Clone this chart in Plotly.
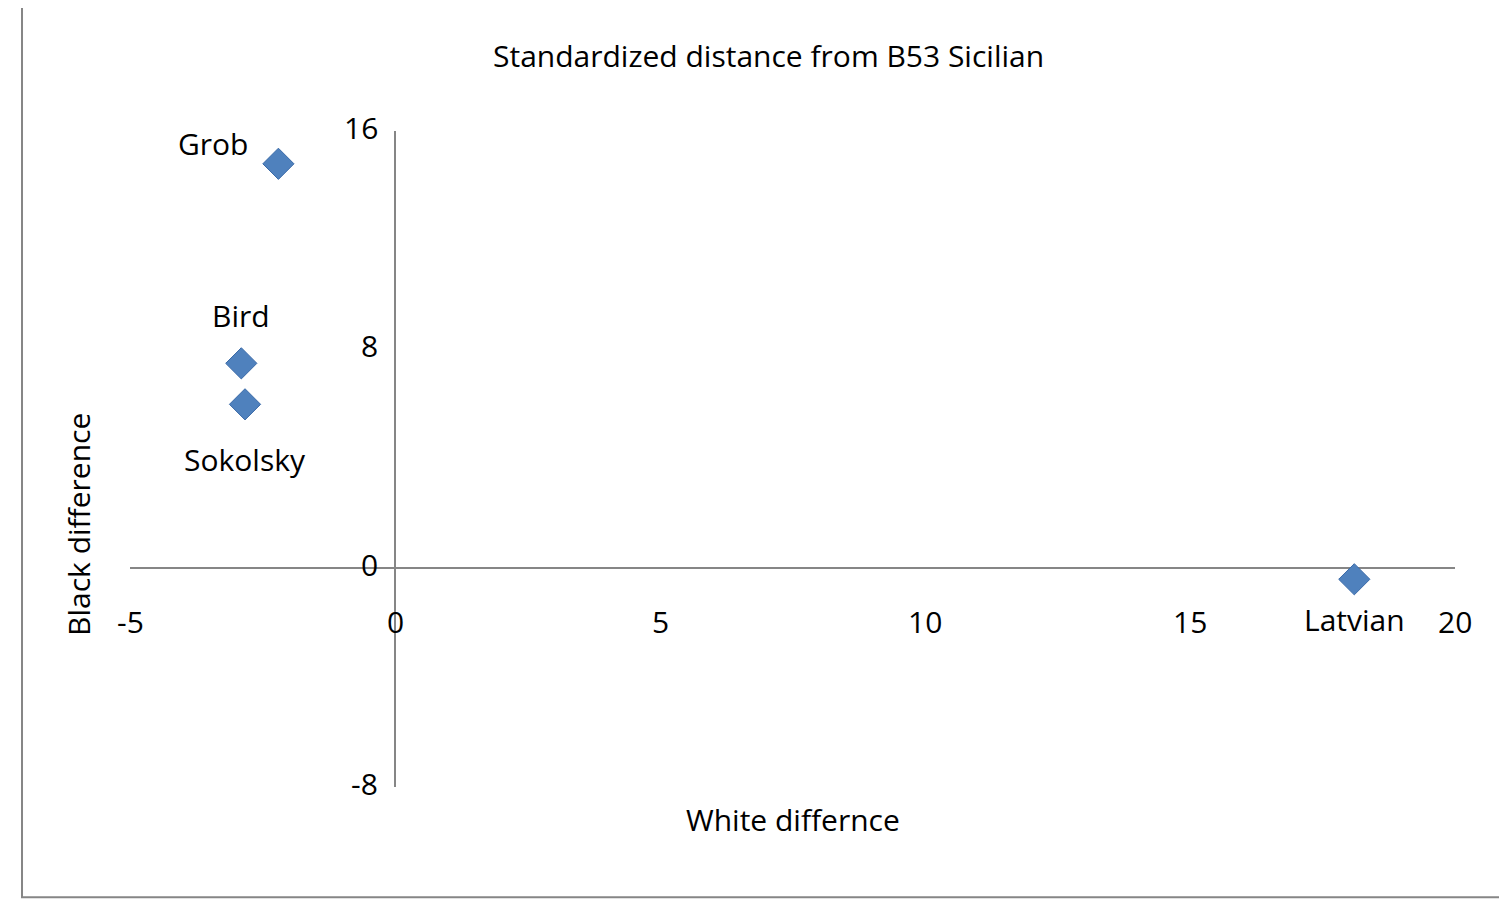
import plotly.graph_objects as go

names = ["Grob", "Bird", "Sokolsky", "Latvian"]
white_diff = [-2.2, -2.9, -2.83, 18.1]
black_diff = [14.8, 7.5, 6.0, -0.4]
label_pos = ["middle left", "top center", "bottom center", "bottom center"]
x_ticks = [-5, 0, 5, 10, 15, 20]
y_ticks = [-8, 0, 8, 16]

FONT = "Open Sans, Liberation Sans, sans-serif"
fig = go.Figure()
fig.add_trace(go.Scatter(
    x=white_diff, y=black_diff, mode="markers",
    marker=dict(symbol="diamond", size=24, color="#4F81BD", line=dict(color="#3A6AA8", width=1)),
    showlegend=False, hoverinfo="skip"))

anns = []
offs = {"middle left": (-28, 20), "top center": (0, 48), "bottom center": (0, -55)}
for n, x, y, p in zip(names, white_diff, black_diff, label_pos):
    dx, dy = offs[p]
    if n == "Latvian":
        dy = -40
    anns.append(dict(x=x, y=y, text=n, showarrow=False, xshift=dx, yshift=dy,
                     xanchor="right" if p == "middle left" else "center",
                     font=dict(size=30, family=FONT, color="black")))
for t in x_ticks:
    anns.append(dict(x=t, y=0, text=str(t), showarrow=False, yshift=-53,
                     font=dict(size=30, family=FONT, color="black")))
for t in y_ticks:
    anns.append(dict(x=0, y=t, text=str(t), showarrow=False, xshift=-15, xanchor="right", yshift=4,
                     font=dict(size=30, family=FONT, color="black")))
anns.append(dict(xref="paper", yref="paper", x=0.5, y=-0.015, yanchor="top", text="White differnce",
                 showarrow=False, font=dict(size=30, family=FONT, color="black")))
anns.append(dict(xref="paper", yref="paper", x=-0.056, y=0.4, text="Black difference", textangle=-90,
                 showarrow=False, font=dict(size=30, family=FONT, color="black")))
anns.append(dict(xref="paper", yref="paper", x=0.482, y=1.15, text="Standardized distance from B53 Sicilian",
                 showarrow=False, font=dict(size=30, family=FONT, color="black")))

fig.update_layout(
    width=1507, height=912, margin=dict(l=122, r=60, t=123, b=133),
    plot_bgcolor="white", paper_bgcolor="white", annotations=anns,
    xaxis=dict(range=[-5, 20], showgrid=False, showticklabels=False, zeroline=True,
               zerolinecolor="#868686", zerolinewidth=2, ticks=""),
    yaxis=dict(range=[-8, 16], showgrid=False, showticklabels=False, zeroline=True,
               zerolinecolor="#868686", zerolinewidth=2, ticks=""),
    shapes=[dict(type="rect", xref="paper", yref="paper", x0=-0.0815, x1=1.034, y0=-0.168, y1=1.21,
                 line=dict(color="#868686", width=2))],
)
fig.write_html("out.html")
